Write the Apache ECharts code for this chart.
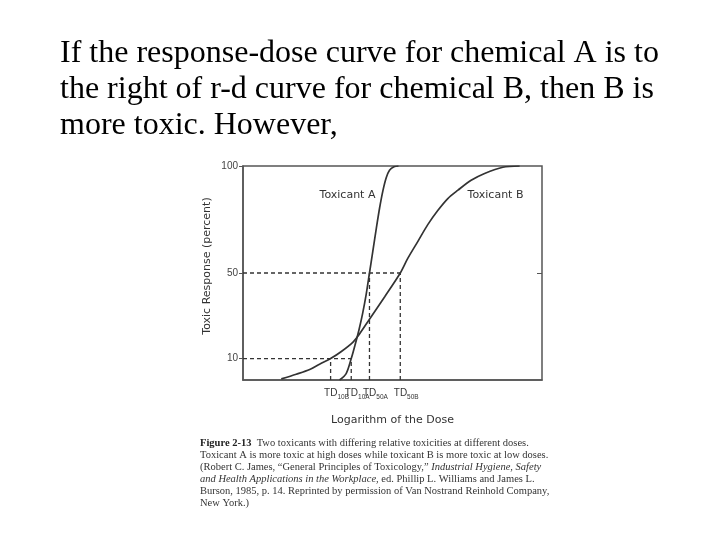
<!DOCTYPE html>
<html><head><meta charset="utf-8">
<script src="https://cdn.jsdelivr.net/npm/echarts@6/dist/echarts.min.js"></script>
<style>html,body{margin:0;padding:0;background:#fff}#c{width:720px;height:540px}</style>
</head><body><div id="c"></div>
<script>
// ---- data (x = log dose, arbitrary units; y = percent response)
const doseA = [3.23, 3.45, 3.62, 3.75, 3.88, 4.00, 4.12, 4.23, 4.34, 4.46, 4.57, 4.68, 4.79, 4.90, 5.05, 5.20];
const respA = [0, 3.0, 10, 16.5, 23.5, 31, 40, 50, 60, 71, 80.5, 88.5, 94.5, 98, 99.6, 100];
const doseB = [1.28, 1.78, 2.23, 2.56, 2.93, 3.29, 3.68, 3.88, 4.23, 4.74, 5.26, 5.51, 5.85, 6.18, 6.52, 6.85, 7.19, 7.63, 8.08, 8.69, 9.25];
const respB = [0.5, 2.7, 4.9, 7.4, 10, 13.3, 17.7, 21.2, 28.4, 38.9, 50, 56.8, 64.8, 72.6, 79.3, 84.8, 88.7, 93.3, 96.5, 99.4, 100];
const tdSubs = ['10B', '10A', '50A', '50B'];
const tdDoses = [2.93, 3.62, 4.23, 5.26];
const tdLevels = [10, 10, 50, 50];
const yTicks = [10, 50, 100];
const seriesNames = ['Toxicant A', 'Toxicant B'];
const seriesLabelPos = [[2.56, 86.3], [7.51, 86.3]];
const headline = [
  'If the response-dose curve for chemical A is to',
  'the right of r-d curve for chemical B, then B is',
  'more toxic. However,'
];
const caption = [
  '{b|Figure 2-13}  Two toxicants with differing relative toxicities at different doses.',
  'Toxicant A is more toxic at high doses while toxicant B is more toxic at low doses.',
  '(Robert C. James, \u201cGeneral Principles of Toxicology,\u201d {i|Industrial Hygiene, Safety}',
  '{i|and Health Applications in the Workplace,} ed. Phillip L. Williams and James L.',
  'Burson, 1985, p. 14. Reprinted by permission of Van Nostrand Reinhold Company,',
  'New York.)'
];

const INK = '#333';
const AX = '#555';
const SANS = 'DejaVu Sans';
const pairs = (xs, ys) => xs.map((x, i) => [x, ys[i]]);

const guideStyle = { type: [4, 3], width: 1.3, color: INK };
const guides = [];
[10, 50].forEach(level => {
  const xs = tdDoses.filter((d, i) => tdLevels[i] === level);
  guides.push({ type: 'line', data: [[0, level], [Math.max(...xs), level]], symbol: 'none', silent: true, lineStyle: guideStyle, z: 1 });
});
tdDoses.forEach((d, i) => {
  guides.push({ type: 'line', data: [[d, 0], [d, tdLevels[i]]], symbol: 'none', silent: true, lineStyle: guideStyle, z: 1 });
});

const curveStyle = { width: 1.7, color: INK };
const chart = echarts.init(document.getElementById('c'), null, { renderer: 'canvas' });
chart.setOption({
  animation: false,
  backgroundColor: '#fff',
  title: {
    text: headline.join('\n'), left: 60, top: 36, padding: 0,
    textStyle: { fontFamily: 'Liberation Serif', fontSize: 32, lineHeight: 36, fontWeight: 'normal', color: '#000' }
  },
  grid: { left: 243, right: 178, top: 166, bottom: 160, show: true, borderColor: AX, borderWidth: 1.5, backgroundColor: 'transparent' },
  xAxis: {
    type: 'value', min: 0, max: 10,
    name: 'Logarithm of the Dose', nameLocation: 'middle', nameGap: 35,
    nameTextStyle: { fontFamily: SANS, fontSize: 11, color: INK },
    axisLine: { show: true, lineStyle: { color: AX, width: 1.5 } },
    axisTick: { show: false },
    splitLine: { show: false },
    axisLabel: { show: false }
  },
  yAxis: [{
    type: 'value', min: 0, max: 100,
    name: 'Toxic Response (percent)', nameLocation: 'middle', nameGap: 30, nameRotate: 90,
    nameTextStyle: { fontFamily: SANS, fontSize: 11, color: INK, padding: [0, 0, 0, 14] },
    axisLine: { show: true, lineStyle: { color: AX, width: 1.5 } },
    axisTick: { show: true, customValues: yTicks, length: 4, lineStyle: { color: AX } },
    axisLabel: { customValues: yTicks, fontFamily: 'Liberation Sans', fontSize: 10, color: '#444', margin: 5 },
    splitLine: { show: false }
  }, {
    type: 'value', min: 0, max: 100, position: 'right',
    axisLine: { show: false },
    axisTick: { show: true, inside: true, customValues: [50], length: 5, lineStyle: { color: AX } },
    axisLabel: { show: false },
    splitLine: { show: false }
  }],
  series: [
    ...guides,
    { name: seriesNames[0], type: 'line', data: pairs(doseA, respA), smooth: 0.3, symbol: 'none', lineStyle: curveStyle, z: 3 },
    { name: seriesNames[1], type: 'line', data: pairs(doseB, respB), smooth: 0.3, symbol: 'none', lineStyle: curveStyle, z: 3 }
  ]
});

const g = [];
seriesNames.forEach((n, i) => {
  const p = chart.convertToPixel({ gridIndex: 0 }, seriesLabelPos[i]);
  g.push({ type: 'text', x: p[0], y: p[1], style: { text: n, fontFamily: SANS, fontSize: 11, fill: INK, verticalAlign: 'middle', align: 'left' } });
});
tdDoses.forEach((d, i) => {
  const p = chart.convertToPixel({ gridIndex: 0 }, [d, 0]);
  g.push({ type: 'text', x: p[0] - 6.5, y: p[1] + 8, style: {
    text: '{t|TD}{s|' + tdSubs[i] + '}', align: 'left', verticalAlign: 'top',
    rich: {
      t: { fontFamily: 'Liberation Sans', fontSize: 10, fill: INK, lineHeight: 12, verticalAlign: 'top' },
      s: { fontFamily: 'Liberation Sans', fontSize: 6.5, fill: INK, lineHeight: 13, verticalAlign: 'bottom' }
    }
  } });
});
caption.forEach((line, i) => {
  g.push({ type: 'text', x: 200, y: 443.5 + 12 * i, style: {
    text: line, fontFamily: 'Liberation Serif', fontSize: 10.5, fill: '#333', verticalAlign: 'middle', align: 'left',
    rich: { b: { fontWeight: 'bold', fontFamily: 'Liberation Serif', fontSize: 10.5, fill: '#222' },
            i: { fontStyle: 'italic', fontFamily: 'Liberation Serif', fontSize: 10.5, fill: '#333' } }
  } });
});
chart.setOption({ graphic: g });
</script></body></html>
